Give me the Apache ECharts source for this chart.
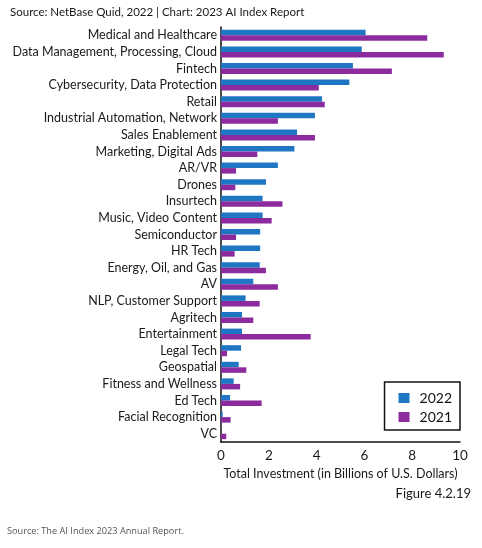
<!DOCTYPE html>
<html>
<head>
<meta charset="utf-8">
<script src="https://cdn.jsdelivr.net/npm/echarts@6/dist/echarts.min.js"></script>
<style>
  html, body { margin: 0; padding: 0; background: #fff; }
  #main { width: 482px; height: 548px; }
</style>
</head>
<body>
<div id="main"></div>
<script>
var categories = [
    'Medical and Healthcare', 'Data Management, Processing, Cloud', 'Fintech',
    'Cybersecurity, Data Protection', 'Retail', 'Industrial Automation, Network',
    'Sales Enablement', 'Marketing, Digital Ads', 'AR/VR', 'Drones', 'Insurtech',
    'Music, Video Content', 'Semiconductor', 'HR Tech', 'Energy, Oil, and Gas', 'AV',
    'NLP, Customer Support', 'Agritech', 'Entertainment', 'Legal Tech', 'Geospatial',
    'Fitness and Wellness', 'Ed Tech', 'Facial Recognition', 'VC'
];
var values2022 = [6.05, 5.89, 5.52, 5.37, 4.23, 3.93, 3.18, 3.07, 2.38, 1.88, 1.74,
    1.74, 1.64, 1.64, 1.62, 1.35, 1.03, 0.88, 0.88, 0.84, 0.74, 0.53, 0.38, 0.07, 0];
var values2021 = [8.63, 9.32, 7.15, 4.09, 4.34, 2.38, 3.93, 1.52, 0.63, 0.60, 2.57,
    2.12, 0.63, 0.57, 1.88, 2.38, 1.62, 1.35, 3.75, 0.25, 1.06, 0.80, 1.70, 0.40, 0.22];
var xTicks = [0, 2, 4, 6, 8, 10];

var font = 'Lato, "Noto Sans", sans-serif';
var chart = echarts.init(document.getElementById('main'));

var option = {
    animation: false,
    backgroundColor: '#fff',
    textStyle: { fontFamily: font },
    title: [{
        text: 'Source: NetBase Quid, 2022 | Chart: 2023 AI Index Report',
        left: 10, top: 6, padding: 0,
        textStyle: { fontSize: 11.5, fontWeight: 'normal', color: '#1a1a1a', fontFamily: font }
    }, {
        text: 'Figure 4.2.19',
        right: 11, top: 487, padding: 0,
        textStyle: { fontSize: 13, fontWeight: 'normal', color: '#1a1a1a', fontFamily: font }
    }, {
        text: 'Source: The AI Index 2023 Annual Report.',
        left: 7, top: 527, padding: 0,
        textStyle: { fontSize: 9.2, fontWeight: 'normal', color: '#555', fontFamily: '"Open Sans", sans-serif' }
    }],
    legend: {
        orient: 'vertical',
        right: 22, top: 382,
        data: ['2022', '2021'],
        icon: 'rect',
        itemWidth: 11, itemHeight: 10,
        itemGap: 5,
        padding: [9, 8, 6, 14],
        borderColor: '#111', borderWidth: 1.5,
        textStyle: { fontSize: 14, color: '#111', fontFamily: font, padding: [0, 0, 0, 5] }
    },
    grid: { left: 221, right: 22, top: 27, bottom: 106, outerBoundsMode: 'none' },
    xAxis: {
        type: 'value',
        min: 0, max: 10, interval: 2,
        name: 'Total Investment (in Billions of U.S. Dollars)',
        nameLocation: 'middle',
        nameGap: 22,
        nameTextStyle: { fontSize: 12.5, color: '#1a1a1a', fontFamily: font },
        axisLine: { show: true, lineStyle: { color: '#111', width: 1.5 } },
        axisTick: { show: false },
        splitLine: { show: false },
        axisLabel: {
            fontSize: 13.5, color: '#1a1a1a', margin: 7,
            formatter: function (v) { return xTicks.indexOf(v) >= 0 ? String(v) : ''; }
        }
    },
    yAxis: {
        type: 'category',
        inverse: true,
        data: categories,
        axisLine: { show: true, lineStyle: { color: '#111', width: 1.5 } },
        axisTick: { show: false },
        axisLabel: { fontSize: 12.5, color: '#1a1a1a', margin: 4, interval: 0 }
    },
    series: [{
        name: '2022',
        type: 'bar',
        data: values2022,
        barWidth: 5.5,
        barGap: '0%',
        itemStyle: { color: '#1f77c3' }
    }, {
        name: '2021',
        type: 'bar',
        data: values2021,
        barWidth: 5.5,
        barGap: '0%',
        itemStyle: { color: '#8b2b9d' }
    }]
};

chart.setOption(option);
</script>
</body>
</html>
